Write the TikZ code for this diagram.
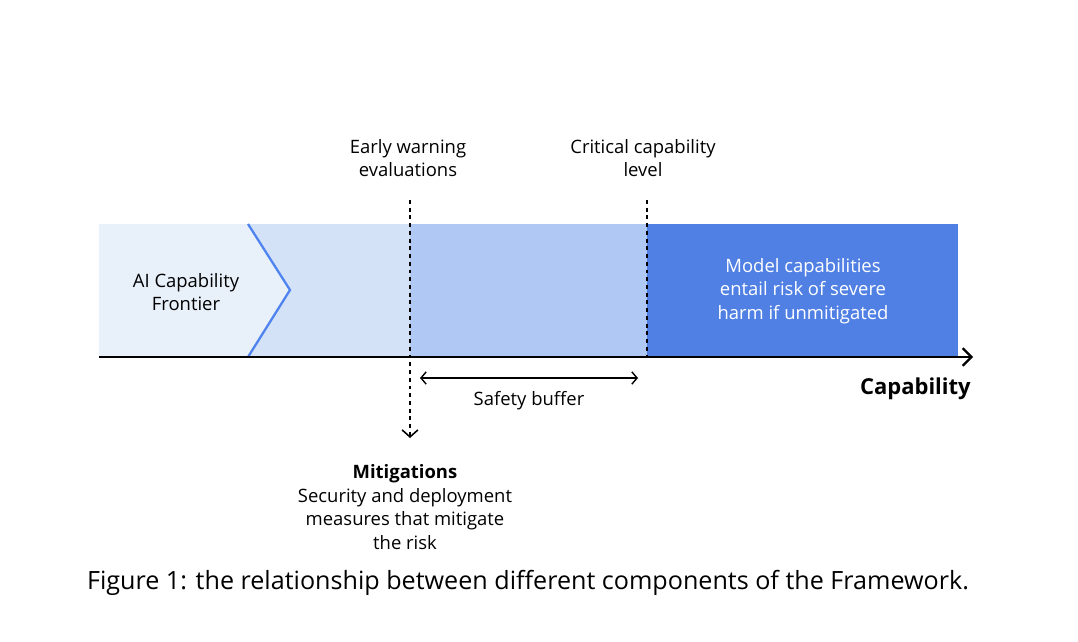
\documentclass[tikz,border=0pt]{standalone}
\usepackage{fontspec}
\setmainfont{Open Sans}
\usetikzlibrary{arrows.meta, calc}
\definecolor{band1}{HTML}{E8F0FA}
\definecolor{band2}{HTML}{D4E2F8}
\definecolor{band3}{HTML}{B0C8F4}
\definecolor{band4}{HTML}{5080E4}
\definecolor{edge}{HTML}{4F84F0}

\begin{document}
\begin{tikzpicture}[
        x=0.02cm, y=-0.02cm,
        label/.style={
            align=center,
            font=\fontsize{10.5}{13.5}\selectfont,
            inner sep=0pt,
        },
        marker/.style={
            dash pattern=on 2.2pt off 2.2pt,
            line width=0.9pt,
        },
    ]
    \useasboundingbox (0, 0) rectangle (1078, 642);

    % bands
    \fill[band2] (248, 224) rectangle (410, 357);
    \fill[band1] (99, 224) -- (248, 224) -- (290, 290) -- (248, 357) -- (99, 357) -- cycle;
    \fill[band3] (410, 224) rectangle (647, 357);
    \fill[band4] (647, 224) rectangle (958, 357);
    \draw[edge, line width=1.3pt] (248, 224) -- (290, 290) -- (248, 357);

    % axis
    \coordinate (a0) at (99, 357);
    \coordinate (a1) at (973, 357);
    \draw[line width=1.3pt, -{Straight Barb[length=5pt, width=10pt]}] (a0) -- (a1);

    % markers
    \coordinate (w0) at (410, 200);
    \coordinate (w1) at (410, 438);
    \coordinate (c0) at (647, 200);
    \coordinate (c1) at (647, 357);
    \draw[marker, -{Straight Barb[length=4pt, width=9pt]}] (w0) -- (w1);
    \draw[marker] (c0) -- (c1);

    \coordinate (s0) at (420, 378);
    \coordinate (s1) at (638, 378);
    \draw[line width=0.8pt, {Straight Barb[length=3pt, width=7pt]}-{Straight Barb[length=3pt, width=7pt]}] (s0) -- (s1);

    \node[label] (warn) at (408, 158) {Early warning\\evaluations};
    \node[label] (crit) at (643, 158) {Critical capability\\level};
    \node[label] (front) at (186, 292) {AI Capability\\Frontier};
    \node[label, text=white] (risk) at (803, 291) {Model capabilities\\entail risk of severe\\harm if unmitigated};
    \node[label] (buffer) at (529, 401) {Safety buffer};
    \node[label, font=\fontsize{12.5}{14}\selectfont\bfseries, anchor=east] (cap) at (971, 389) {Capability};
    \node[label] (mit) at (405, 507) {\textbf{Mitigations}\\Security and deployment\\measures that mitigate\\the risk};
    \node[label, font=\fontsize{14.3}{16}\selectfont] (caption) at (528, 583) {Figure 1: the relationship between different components of the Framework.};
\end{tikzpicture}
\end{document}
